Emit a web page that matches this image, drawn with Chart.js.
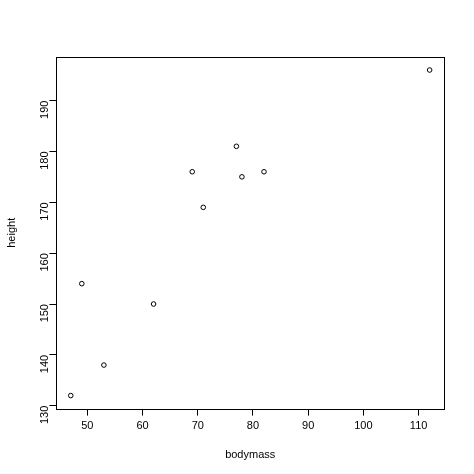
<!DOCTYPE html>
<html><head>
<script src="https://cdn.jsdelivr.net/npm/chart.js@4/dist/chart.umd.min.js"></script>
<style>html,body{margin:0;background:#fff}#wrap{width:474px;height:474px}</style>
</head><body><div id="wrap"><canvas id="c"></canvas></div>
<script>
// bodymass vs height
var bodymass = [47, 49, 53, 62, 69, 71, 77, 78, 82, 112];
var height = [132, 154, 138, 150, 176, 169, 181, 175, 176, 196];

var points = bodymass.map(function (b, i) { return { x: b, y: height[i] }; });

var boxPlugin = {
  id: 'box',
  afterDraw: function (chart) {
    var a = chart.chartArea, ctx = chart.ctx;
    ctx.save();
    ctx.strokeStyle = '#000';
    ctx.lineWidth = 1;
    ctx.strokeRect(Math.round(a.left) + 0.5, Math.round(a.top) + 0.5,
      Math.round(a.right - a.left), Math.round(a.bottom - a.top));
    ctx.restore();
  }
};

var font = { family: 'Arial, "Liberation Sans", sans-serif', size: 11 };

new Chart(document.getElementById('c'), {
  type: 'scatter',
  data: {
    datasets: [{
      data: points,
      pointRadius: 2.3,
      pointBorderWidth: 1,
      pointBorderColor: '#000',
      pointBackgroundColor: '#fff'
    }]
  },
  options: {
    responsive: true,
    maintainAspectRatio: false,
    animation: false,
    layout: { padding: { top: 57, right: 30, left: 1, bottom: 8 } },
    plugins: { legend: { display: false }, tooltip: { enabled: false } },
    scales: {
      x: {
        min: 44.4, max: 114.6,
        border: { display: false },
        grid: { drawOnChartArea: false, tickLength: 7, color: '#000' },
        afterBuildTicks: function (s) { s.ticks = [50,60,70,80,90,100,110].map(function (v) { return { value: v }; }); },
        ticks: { color: '#000', font: font, maxRotation: 0, padding: 4 },
        title: { display: true, text: 'bodymass', color: '#000', font: font, padding: { top: 12 } }
      },
      y: {
        min: 129.44, max: 198.56,
        border: { display: false },
        grid: { drawOnChartArea: false, tickLength: 7, color: '#000' },
        afterBuildTicks: function (s) { s.ticks = [130,140,150,160,170,180,190].map(function (v) { return { value: v }; }); },
        ticks: { color: '#000', font: font, minRotation: 90, maxRotation: 90, padding: 4 },
        title: { display: true, text: 'height', color: '#000', font: font, padding: { bottom: 10 } }
      }
    }
  },
  plugins: [boxPlugin]
});
</script>
</body></html>
